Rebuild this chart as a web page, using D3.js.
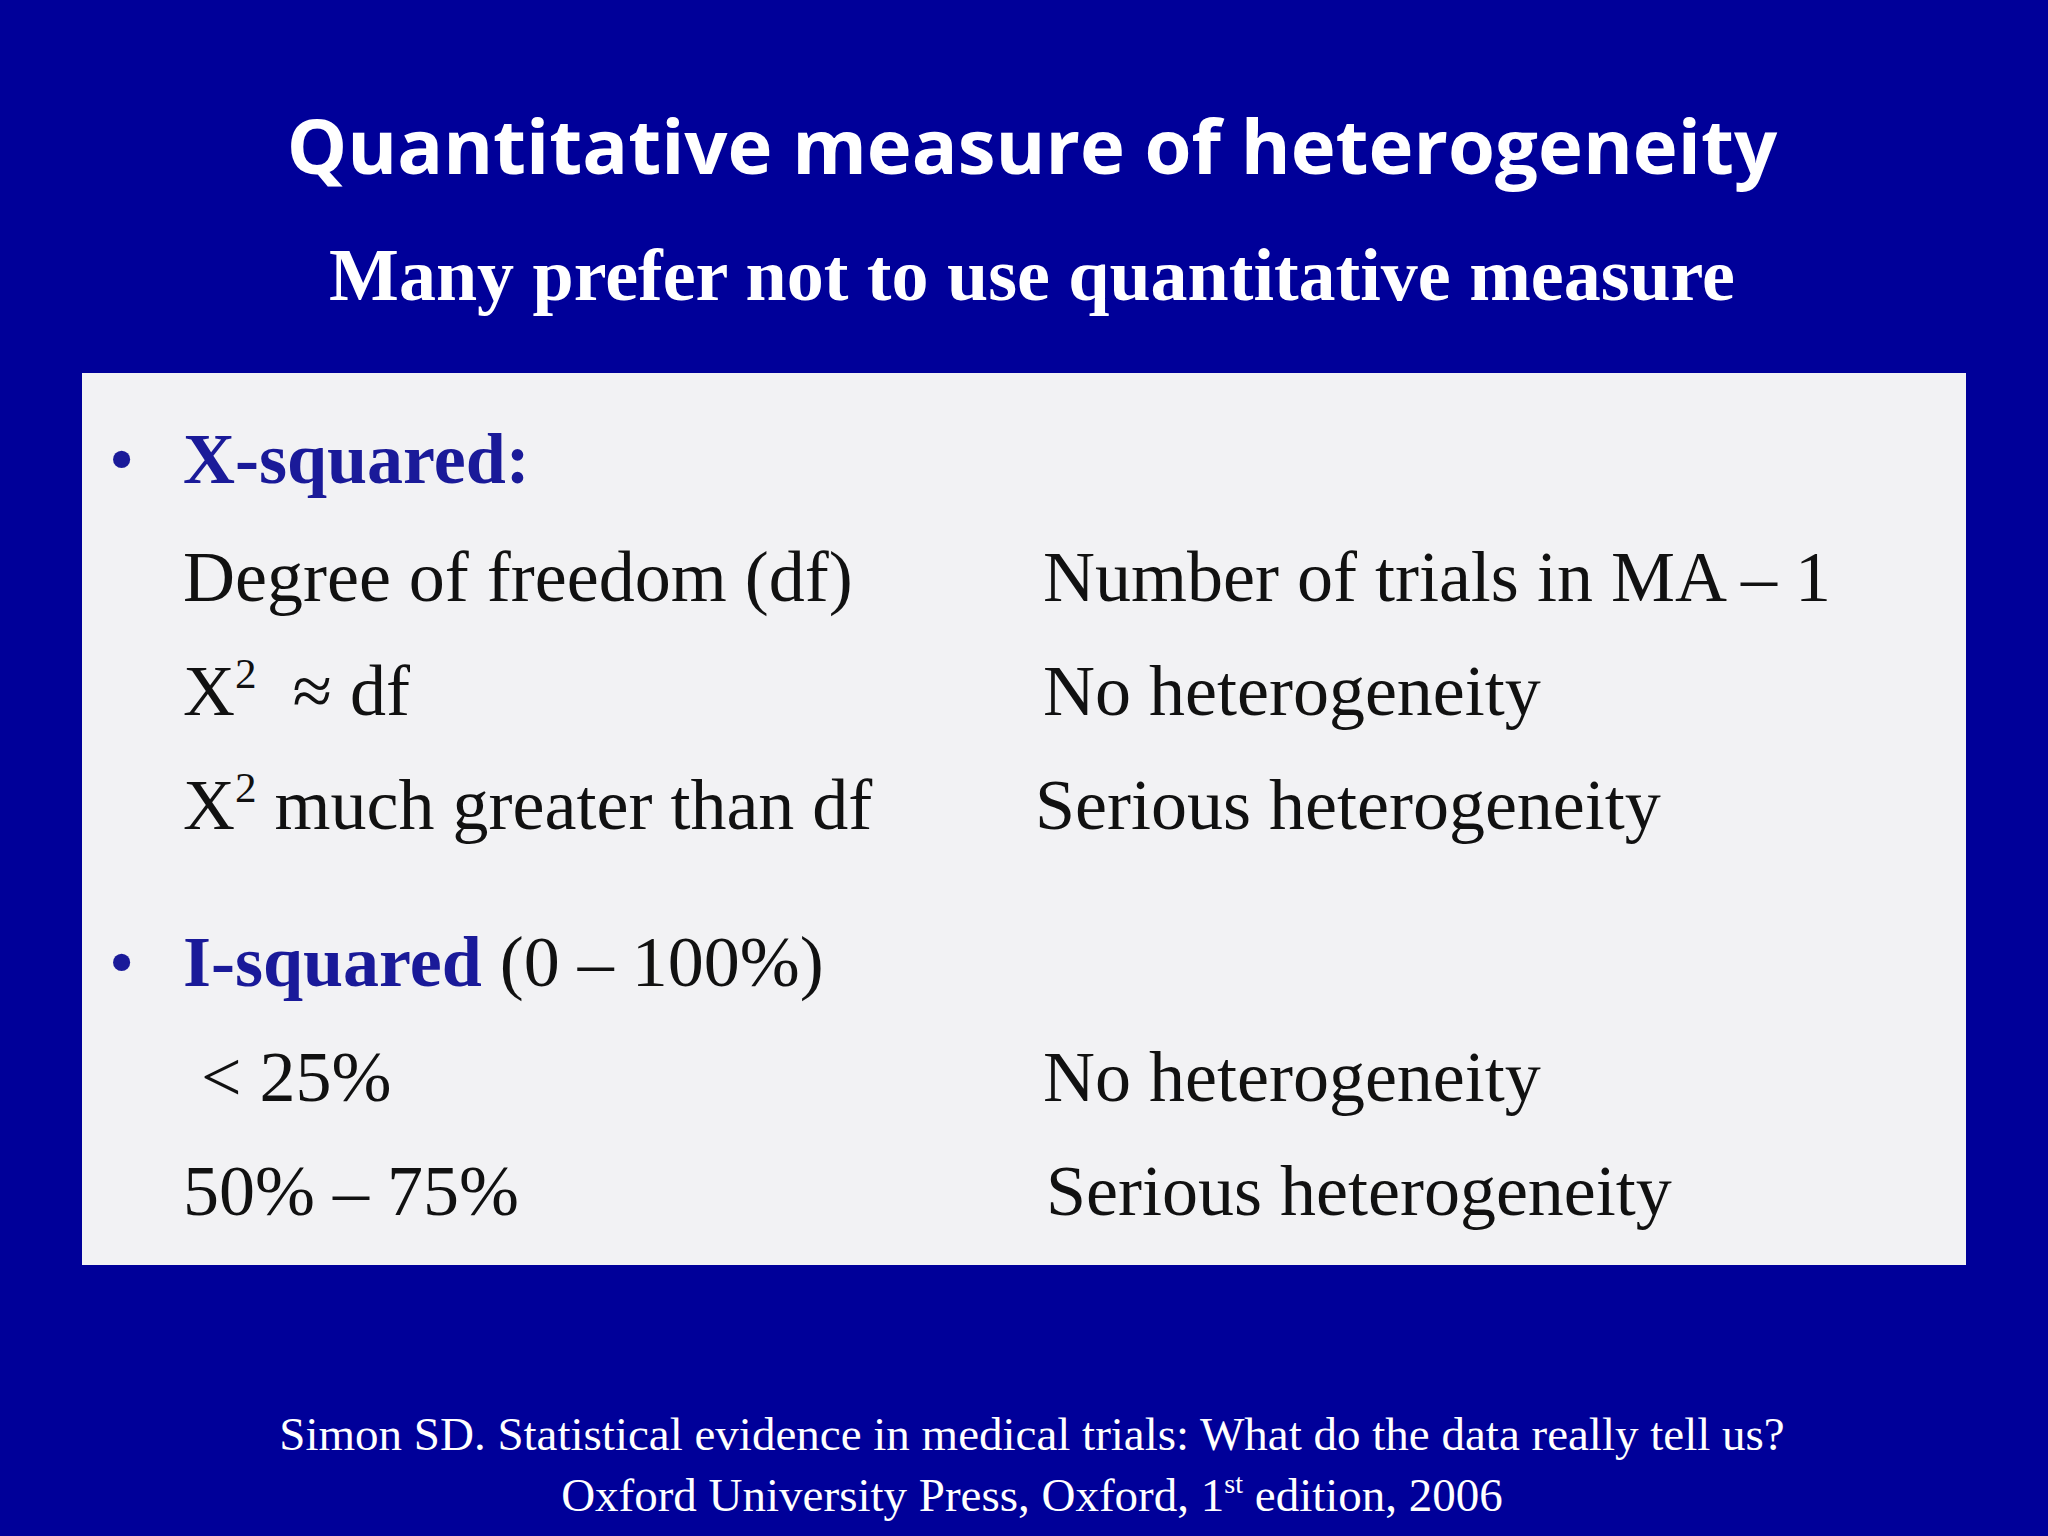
<!DOCTYPE html>
<html><head><meta charset="utf-8">
<script src="https://cdn.jsdelivr.net/npm/d3@7"></script>
<style>body{margin:0;background:#000099}</style>
</head><body>
<script>
// slide text, kept as small arrays
const title = "Quantitative measure of heterogeneity"
const subtitle = "Many prefer not to use quantitative measure"
const xRows = [
  {left: [["Degree of freedom (df)"]], right: "Number of trials in MA \u2013 1", rx: 1043},
  {left: [["X"], ["2", "sup"], ["  \u2248 df"]], right: "No heterogeneity", rx: 1043},
  {left: [["X"], ["2", "sup"], [" much greater than df"]], right: "Serious heterogeneity", rx: 1035}
]
const iRows = [
  {left: [["\u00a0< 25%"]], right: "No heterogeneity", rx: 1043},
  {left: [["50% \u2013 75%"]], right: "Serious heterogeneity", rx: 1046}
]
const footer = [
  [["Simon SD. Statistical evidence in medical trials: What do the data really tell us?"]],
  [["Oxford University Press, Oxford, 1"], ["st", "sup"], [" edition, 2006"]]
]

const W = 2048, H = 1536
const svg = d3.select("body").append("svg").attr("width", W).attr("height", H)
svg.append("rect").attr("width", W).attr("height", H).attr("fill", "#000099")

const serif = "'Liberation Serif','Times New Roman',serif"

function rich(sel, parts, size) {
  parts.forEach(p => {
    const t = sel.append("tspan").text(p[0])
    if (p[1] === "sup") t.attr("font-size", size * 0.6).attr("dy", -size * 0.38)
    else if (sel.selectAll("tspan").size() > 1) t.attr("dy", 0)
  })
  // reset baseline after superscript
  sel.selectAll("tspan").each(function(d, i, n) {
    const prev = i > 0 ? n[i - 1] : null
    if (prev && prev.getAttribute("font-size") && !this.getAttribute("font-size"))
      d3.select(this).attr("dy", size * 0.38)
  })
  return sel
}

svg.append("text").attr("x", 1032).attr("y", 174).attr("text-anchor", "middle")
  .attr("fill", "#fff").attr("font-family", "'Open Sans','DejaVu Sans',sans-serif")
  .attr("font-weight", "bold").attr("font-size", 76).text(title)
svg.append("text").attr("x", 1032).attr("y", 300).attr("text-anchor", "middle")
  .attr("fill", "#fff").attr("font-family", serif)
  .attr("font-weight", "bold").attr("font-size", 74).text(subtitle)

svg.append("rect").attr("x", 82).attr("y", 373).attr("width", 1884).attr("height", 892)
  .attr("fill", "#f2f2f4")

const fs = 72
const y = d3.scaleLinear().domain([0, 1]).range([483, 601])

function heading(yy, bold, rest) {
  svg.append("text").attr("x", 109).attr("y", yy).attr("fill", "#1a1a99")
    .attr("font-family", serif).attr("font-size", fs).text("\u2022")
  const t = svg.append("text").attr("x", 183).attr("y", yy).attr("font-family", serif).attr("font-size", fs)
  t.append("tspan").attr("fill", "#1a1a99").attr("font-weight", "bold").text(bold)
  if (rest) t.append("tspan").attr("fill", "#111").text(rest)
}
function rows(data, y0) {
  data.forEach((r, i) => {
    const yy = y0 + i * 114
    rich(svg.append("text").attr("x", 183).attr("y", yy).attr("fill", "#111")
      .attr("font-family", serif).attr("font-size", fs).attr("xml:space", "preserve"), r.left, fs)
    svg.append("text").attr("x", r.rx).attr("y", yy).attr("fill", "#111")
      .attr("font-family", serif).attr("font-size", fs).text(r.right)
  })
}
heading(y(0), "X-squared:", null)
rows(xRows, 601)
heading(986, "I-squared", " (0 \u2013 100%)")
rows(iRows, 1101)

footer.forEach((parts, i) => {
  rich(svg.append("text").attr("x", 1032).attr("y", 1450 + i * 61).attr("text-anchor", "middle")
    .attr("fill", "#fff").attr("font-family", serif).attr("font-size", 47), parts, 47)
})
</script>
</body></html>
